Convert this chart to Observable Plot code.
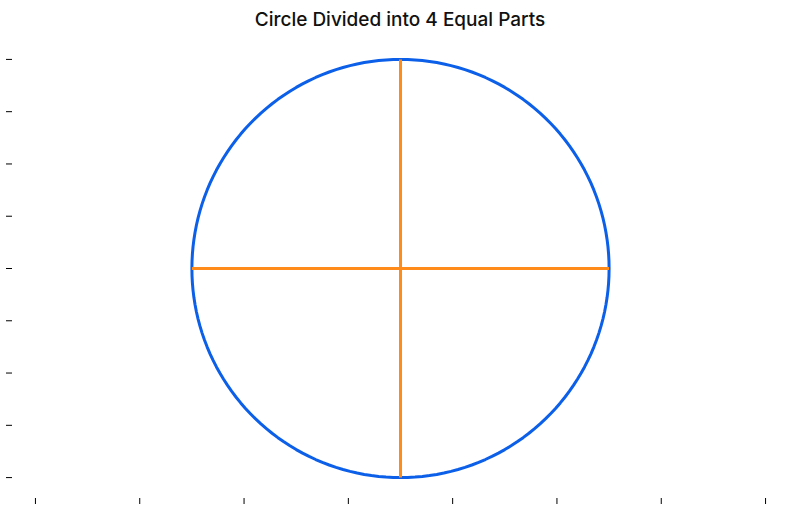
<!DOCTYPE html>
<html>
<head>
<meta charset="utf-8">
<script src="https://cdn.jsdelivr.net/npm/d3@7"></script>
<script src="https://cdn.jsdelivr.net/npm/@observablehq/plot@0.6"></script>
<style>
  html, body { margin: 0; padding: 0; background: #fff; }
  #title { height: 38px; width: 800px; text-align: center; font-family: Inter, "Noto Sans", sans-serif; font-size: 19px; font-weight: 500; color: #111; line-height: 40px; }
</style>
</head>
<body>
<div id="title">Circle Divided into 4 Equal Parts</div>
<div id="chart"></div>
<script>
// Circle definition
const circleCenter = [0, 0];
const circleRadius = 1;
const circleSteps = 180;
// Dividing lines (start/end points)
const dividerX1 = [-1, 0];
const dividerY1 = [0, -1];
const dividerX2 = [1, 0];
const dividerY2 = [0, 1];
// Tick values
const xTicks = [-1.75, -1.25, -0.75, -0.25, 0.25, 0.75, 1.25, 1.75];
const yTicks = [-1, -0.75, -0.5, -0.25, 0, 0.25, 0.5, 0.75, 1];

const circlePts = d3.range(circleSteps + 1).map(i => {
  const t = (i / circleSteps) * 2 * Math.PI;
  return { x: circleCenter[0] + circleRadius * Math.cos(t), y: circleCenter[1] + circleRadius * Math.sin(t) };
});
const dividers = dividerX1.map((d, i) => ({ x1: d, y1: dividerY1[i], x2: dividerX2[i], y2: dividerY2[i] }));

const chart = Plot.plot({
  width: 800,
  height: 472,
  marginLeft: 12,
  marginRight: 12,
  marginTop: 0,
  marginBottom: 12,
  x: { domain: [-1.86, 1.86], ticks: xTicks, tickFormat: () => "", label: null },
  y: { domain: [-1.1, 1.1], ticks: yTicks, tickFormat: () => "", label: null },
  marks: [
    Plot.line(circlePts, { x: "x", y: "y", stroke: "#0b5fe8", strokeWidth: 3 }),
    Plot.link(dividers, { x1: "x1", y1: "y1", x2: "x2", y2: "y2", stroke: "#ff8c1a", strokeWidth: 3 })
  ]
});
document.getElementById("chart").appendChild(chart);
</script>
</body>
</html>
